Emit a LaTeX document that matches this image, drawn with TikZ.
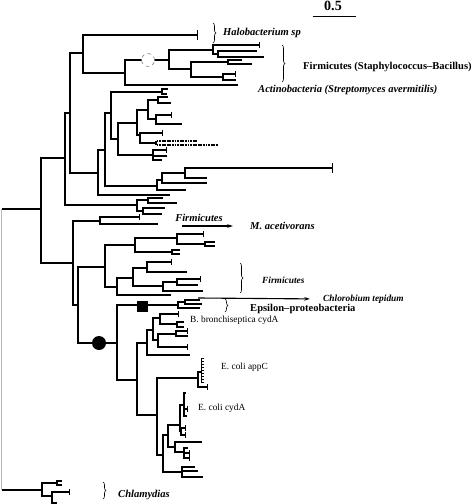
\documentclass[tikz,border=0pt]{standalone}
\usepackage{fontspec}
\setmainfont{Liberation Serif}
\usetikzlibrary{arrows.meta, decorations.pathreplacing}

\begin{document}
\begin{tikzpicture}[
        x=0.03cm, y=-0.03cm,
        branch/.style={
            line width=1.05pt
        },
        tipbar/.style={
            -{Bar[width=4.5pt, line width=0.8pt]}
        },
        longbar/.style={
            -{Bar[width=8pt, line width=0.9pt]}
        },
        pointer/.style={
            line width=0.95pt,
            -{Stealth[length=5pt, width=3pt]}
        },
        clade/.style={
            decorate,
            decoration={brace, amplitude=2.5pt},
            line width=0.5pt
        },
        taxon/.style={anchor=west, inner sep=0pt, font=\fontsize{9}{10}\selectfont\bfseries\itshape},
        group/.style={anchor=west, inner sep=0pt, font=\fontsize{9}{10}\selectfont\bfseries},
        strain/.style={anchor=west, inner sep=0pt, font=\fontsize{8}{9}\selectfont},
        ring/.style={circle, draw=gray, dashed, line width=0.5pt, fill=white, inner sep=0pt, minimum size=0.39cm},
        dot/.style={circle, fill=black, inner sep=0pt, minimum size=0.42cm},
        box/.style={rectangle, fill=black, inner sep=0pt, minimum size=0.33cm}
    ]

        \useasboundingbox (0,0) rectangle (474,504);

        % Root
        \coordinate (root) at (1.5,350);
        \coordinate (nA) at (41,209);
        \coordinate (nCh) at (42,490);
        \draw[gray!55, line width=1.4pt] (root |- nA) -- (root |- nCh);
        \draw[branch] (root |- nA) -- (nA);
        \draw[branch] (root |- nCh) -- (nCh);

        % Upper part of the tree
        \coordinate (nB) at (65,158);
        \coordinate (nZ) at (73,263);
        \draw[branch] (nA) |- (nB) (nA) |- (nZ);
        \coordinate (nC) at (70,113);
        \coordinate (nR) at (137,205);
        \draw[branch] (nB) |- (nC) (nB) |- (nR);
        \coordinate (nD) at (83,53);
        \coordinate (nE) at (98,173);
        \draw[branch] (nC) |- (nD) (nC) |- (nE);

        % Halobacterium, Firmicutes, Actinobacteria
        \coordinate (nU) at (125,73);
        \draw[branch] (nD) |- (nU);
        \draw[branch, longbar] (nD) |- (198,35);
        \coordinate (nV) at (169,60);
        \draw[branch] (nU) |- (nV) (nU) |- (238,85);
        \node[ring] (loop) at (148,60) {};
        \coordinate (nW) at (213,50);
        \coordinate (nY) at (191,69);
        \draw[branch] (nV) |- (nW) (nV) |- (nY);
        \coordinate (nX) at (218,54);
        \draw[branch] (nW) |- (nX);
        \draw[branch, tipbar] (nW) |- (260,45);
        \draw[branch] (nX) |- (257,51) (nX) |- (264,57);
        \coordinate (nY1) at (228,62);
        \coordinate (nY2) at (223,77);
        \draw[branch] (nY) |- (nY1) (nY) |- (nY2);
        \draw[branch] (nY1) |- (242,60) (nY1) |- (252,64);
        \draw[branch, tipbar] (nY2) |- (236,74);
        \draw[branch] (nY2) |- (236,80);

        % Middle clusters
        \coordinate (nF) at (105,150);
        \draw[branch] (nE) |- (nF) (nE) |- (170,195);
        \coordinate (nG) at (111,113);
        \coordinate (nO) at (157,186);
        \draw[branch] (nF) |- (nG) (nF) |- (nO);
        \coordinate (nG1) at (162,92);
        \coordinate (nH) at (118,139);
        \draw[branch] (nG) |- (nG1) (nG) |- (nH);
        \draw[branch] (nG1) |- (168,89) (nG1) |- (167,94);
        \coordinate (nI) at (137,123);
        \coordinate (nN) at (153,155);
        \draw[branch] (nH) |- (nI) (nH) |- (nN);
        \coordinate (nJ) at (148,110);
        \coordinate (nM) at (140,135);
        \draw[branch] (nI) |- (nJ) (nI) |- (nM);
        \coordinate (nK) at (158,100);
        \coordinate (nL) at (156,119);
        \draw[branch] (nJ) |- (nK) (nJ) |- (nL);
        \draw[branch] (nK) |- (168,97) (nK) |- (171,103);
        \draw[branch, tipbar] (nL) |- (172,115);
        \draw[branch] (nL) |- (182,124);
        \coordinate (nM1) at (156,143);
        \draw[branch, tipbar] (nM) |- (163,133);
        \draw[branch] (nM) |- (nM1);
        \draw[line width=1.2pt, dash pattern=on 1.6pt off 0.6pt] (nM1) |- (197,141) (nM1) |- (218,145);
        \draw[branch, tipbar] (nN) |- (167,150);
        \draw[branch] (nN) |- (167,156) (nN) |- (162,160);
        \coordinate (nP) at (162,180);
        \draw[branch] (nO) |- (nP);
        \draw[line width=1.6pt] (nO) |- (186,190);
        \coordinate (nQ) at (185,173);
        \draw[branch] (nP) |- (nQ) (nP) |- (207,183);
        \draw[branch, longbar] (nQ) |- (333,168);
        \draw[branch] (nQ) |- (207,178);
        \coordinate (nS) at (148,200);
        \coordinate (nT) at (143,211);
        \draw[branch] (nR) |- (nS) (nR) |- (nT);
        \draw[branch] (nS) |- (163,198) (nS) |- (177,203);
        \draw[branch] (nT) |- (165,208) (nT) |- (162,214);

        % Lower part of the tree
        \coordinate (nZ1) at (100,221);
        \coordinate (nAA) at (78,305);
        \draw[branch] (nZ) |- (nZ1) (nZ) |- (nAA);
        \draw[branch, tipbar] (nZ1) |- (140,217);
        \draw[branch] (nZ1) |- (158,224);
        \coordinate (nAB) at (105,267);
        \coordinate (nAI) at (117,343);
        \draw[branch] (nAA) |- (nAB) (nAA) |- (nAI);
        \node[dot] (bigdot) at (99,343) {};

        % Firmicutes
        \coordinate (nAC) at (135,245);
        \coordinate (nAE) at (117,287);
        \draw[branch] (nAB) |- (nAC) (nAB) |- (nAE);
        \coordinate (nAD) at (177,238);
        \coordinate (nAC2) at (172,252);
        \draw[branch] (nAC) |- (nAD) (nAC) |- (nAC2);
        \coordinate (nAD2) at (205,244);
        \draw[branch, tipbar] (nAD) |- (204,234);
        \draw[branch] (nAD) |- (nAD2);
        \draw[branch] (nAD2) |- (215,242) (nAD2) |- (215,246);
        \draw[branch] (nAC2) |- (180,250) (nAC2) |- (180,254);
        \coordinate (nAF) at (133,278);
        \draw[branch] (nAE) |- (nAF) (nAE) |- (171,295);
        \coordinate (nAG) at (147,268);
        \coordinate (nAH) at (163,286);
        \draw[branch] (nAF) |- (nAG) (nAF) |- (nAH);
        \draw[branch, tipbar] (nAG) |- (172,262);
        \draw[branch] (nAG) |- (187,272);
        \coordinate (nAH1) at (177,282);
        \draw[branch] (nAH) |- (nAH1) (nAH) |- (203,291);
        \draw[branch, tipbar] (nAH1) |- (201,279);
        \draw[branch] (nAH1) |- (198,285);

        % Epsilon-proteobacteria and the E. coli branches
        \coordinate (nAJ) at (178,305);
        \coordinate (nAK) at (137,380);
        \draw[branch] (nAI) |- (nAJ) (nAI) |- (nAK);
        \node[box] (square) at (142.5,306) {};
        \coordinate (nAJ1) at (185,302);
        \draw[branch] (nAJ) |- (nAJ1) (nAJ) |- (200,308);
        \draw[branch] (nAJ1) |- (200,300) (nAJ1) |- (202,304);
        \coordinate (nAL) at (147,343);
        \coordinate (nAP) at (157,415);
        \draw[branch] (nAK) |- (nAL) (nAK) |- (nAP);
        \coordinate (nAM) at (153,330);
        \draw[branch] (nAL) |- (nAM) (nAL) |- (190,355);
        \coordinate (nAN) at (160,318);
        \coordinate (nAO) at (158,340);
        \draw[branch] (nAM) |- (nAN) (nAM) |- (nAO);
        \coordinate (nAN1) at (177,324);
        \draw[branch, tipbar] (nAN) |- (179,314);
        \draw[branch] (nAN) |- (nAN1);
        \draw[branch] (nAN1) |- (184,322) (nAN1) |- (184,327);
        \coordinate (nAO1) at (176,334);
        \draw[branch] (nAO) |- (nAO1);
        \draw[branch, tipbar] (nAO) |- (188,347);
        \draw[branch, tipbar] (nAO1) |- (188,331);
        \draw[branch] (nAO1) |- (188,336);

        % appC
        \coordinate (nAQ) at (198,378);
        \coordinate (nAR) at (163,455);
        \draw[branch] (nAP) |- (nAQ) (nAP) |- (nAR);
        \coordinate (nAQ1) at (201,372);
        \draw[branch] (nAQ) |- (nAQ1);
        \draw[branch, tipbar] (nAQ) |- (208,387);
        \foreach \yy in {358,361,...,382}
            \draw[line width=0.6pt] (nAQ1) |- (204,\yy);

        % cydA
        \coordinate (nAS) at (168,435);
        \coordinate (nAR2) at (182,472);
        \draw[branch] (nAR) |- (nAS) (nAR) |- (nAR2);
        \coordinate (nAT) at (180,425);
        \coordinate (nAU) at (175,447);
        \draw[branch] (nAS) |- (nAT) (nAS) |- (nAU);
        \coordinate (nAT1) at (184,405);
        \coordinate (nAT2) at (181,431);
        \draw[branch] (nAT) |- (nAT1) (nAT) |- (nAT2);
        \draw[branch] (nAT1) |- (186,393) (nAT1) |- (187,416);
        \draw[branch, tipbar] (nAT1) |- (188,409);
        \draw[branch, tipbar] (nAT2) |- (186,428);
        \draw[branch, tipbar] (nAT2) |- (186,435);
        \coordinate (nAU1) at (184,452);
        \draw[branch] (nAU) |- (202,442) (nAU) |- (nAU1);
        \draw[branch] (nAU1) |- (188,448);
        \draw[branch, tipbar] (nAU1) |- (190,453);
        \draw[branch, tipbar] (nAU1) |- (190,458);
        \draw[branch] (nAR2) |- (195,467) (nAR2) |- (198,471) (nAR2) |- (203,477);

        % Chlamydias
        \coordinate (nCh1) at (57,483);
        \coordinate (nCh2) at (52,496);
        \draw[branch] (nCh) |- (nCh1) (nCh) |- (nCh2);
        \draw[branch] (nCh1) |- (62,481) (nCh1) |- (62,485);
        \draw[branch, tipbar] (nCh2) |- (70,492);
        \draw[branch] (nCh2) |- (57,503);

        % Labels
        \node[taxon] (halo) at (223,33) {Halobacterium sp};
        \draw[clade] (213,23) -- (213,43);
        \node[group] (staph) at (303,67) {Firmicutes (Staphylococcus–Bacillus)};
        \draw[clade] (282,45) -- (282,82);
        \node[taxon] (actino) at (258,90) {Actinobacteria (Streptomyces avermitilis)};

        \node[taxon, anchor=center] (firmA) at (199,218) {Firmicutes};
        \node[taxon] (macet) at (250,226) {M. acetivorans};
        \coordinate (arrA) at (182,226);
        \draw[pointer, shorten >=0.51cm] (arrA) -- (macet.west);

        \node[taxon, font=\fontsize{8}{9}\selectfont\bfseries\itshape] (firmB) at (262,280) {Firmicutes};
        \draw[clade] (240,263) -- (240,293);

        \node[taxon, font=\fontsize{8}{9}\selectfont\bfseries\itshape] (chloro) at (323,299) {Chlorobium tepidum};
        \coordinate (arrB) at (198,298);
        \draw[pointer, shorten >=0.39cm] (arrB) -- (chloro.west);
        \node[group] (epsilon) at (250,309) {Epsilon–proteobacteria};
        \draw[clade] (225,299) -- (225,312);

        \node[strain] (bronch) at (190,320) {B. bronchiseptica cydA};
        \node[strain] (appC) at (221,367) {E. coli appC};
        \node[strain] (cydA) at (198,408) {E. coli cydA};

        \node[taxon] (chlam) at (118,495) {Chlamydias};
        \draw[clade] (103,482) -- (103,499);

        % Scale bar
        \node[anchor=base, inner sep=0pt, font=\fontsize{12}{12}\selectfont\bfseries] (scale) at (333,10.5) {0.5};
        \draw[line width=1.3pt] (scale.south west) ++(-11,5.5) coordinate (barL) -- ++(43,0) coordinate (barR);

    \end{tikzpicture}
\end{document}
